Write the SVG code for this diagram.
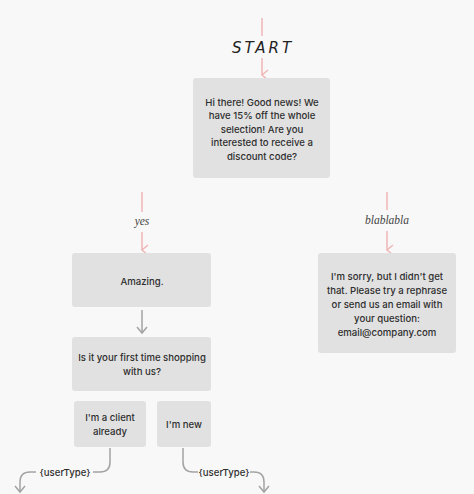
<svg xmlns="http://www.w3.org/2000/svg" width="474" height="494" viewBox="0 0 474 494">
  <style>
    .box { fill: #e1e1e1; }
    .t { font-family: Inter, "Liberation Sans", sans-serif; font-size: 9.6px; font-weight: 500; fill: #2e2e2e; text-anchor: middle; }
    .pink { stroke: #f0b6b6; stroke-width: 1.5; fill: none; }
    .grey { stroke: #a3a3a3; stroke-width: 1.5; fill: none; }
    .hand { font-family: "Liberation Serif", serif; font-style: italic; font-size: 11.5px; fill: #444444; text-anchor: middle; }
    .start { font-family: "DejaVu Sans", sans-serif; font-size: 15px; fill: #222222; text-anchor: middle; letter-spacing: 3px; font-style: italic; }
  </style>
  <defs>
    <marker id="pa" viewBox="0 0 12 12" refX="6" refY="10" markerWidth="12" markerHeight="12" markerUnits="userSpaceOnUse" orient="auto-start-reverse">
      <path d="M1,4 L6,10 L11,4" fill="none" stroke="#f0b6b6" stroke-width="1.5"/>
    </marker>
    <marker id="ga" viewBox="0 0 12 12" refX="6" refY="10" markerWidth="12" markerHeight="12" markerUnits="userSpaceOnUse" orient="0">
      <path d="M1,4 L6,10 L11,4" fill="none" stroke="#a3a3a3" stroke-width="1.5"/>
    </marker>
  </defs>
  <rect width="474" height="494" fill="#f8f8f8"/>

  <g id="connectors">
    <line class="pink" x1="262" y1="18" x2="262" y2="36"/>
    <line class="pink" x1="262" y1="58" x2="262" y2="75" marker-end="url(#pa)"/>
    <line class="pink" x1="142" y1="192" x2="142" y2="212"/>
    <line class="pink" x1="142" y1="232" x2="142" y2="250" marker-end="url(#pa)"/>
    <line class="pink" x1="387" y1="192" x2="387" y2="210"/>
    <line class="pink" x1="387" y1="231" x2="387" y2="250" marker-end="url(#pa)"/>
    <line class="grey" x1="142" y1="310" x2="142" y2="333" marker-end="url(#ga)"/>
    <path class="grey" d="M110,448 V462 Q110,472 100,472 H93"/>
    <path class="grey" d="M36,472 H30 Q20,472 20,482 V492" marker-end="url(#ga)"/>
    <path class="grey" d="M183,448 V462 Q183,472 193,472 H198"/>
    <path class="grey" d="M250,472 H254 Q264,472 264,482 V492" marker-end="url(#ga)"/>
    <text class="hand" x="142" y="225">yes</text>
    <text class="hand" x="387" y="224">blablabla</text>
    <text class="t" x="65" y="475.5">{userType}</text>
    <text class="t" x="224" y="475.5">{userType}</text>
  </g>

  <g id="start">
    <text class="start" x="263" y="53">START</text>
  </g>

  <g id="welcome">
    <rect class="box" x="193" y="78" width="137" height="100" rx="3"/>
    <text class="t" x="262" y="105.5">Hi there! Good news! We</text>
    <text class="t" x="262" y="119">have 15% off the whole</text>
    <text class="t" x="262" y="132.5">selection! Are you</text>
    <text class="t" x="262" y="146">interested to receive a</text>
    <text class="t" x="262" y="159.5">discount code?</text>
  </g>

  <g id="amazing">
    <rect class="box" x="72" y="253" width="139" height="54" rx="3"/>
    <text class="t" x="142" y="284.5">Amazing.</text>
  </g>

  <g id="first-time">
    <rect class="box" x="72" y="337" width="139" height="54" rx="3"/>
    <text class="t" x="142" y="360.5">Is it your first time shopping</text>
    <text class="t" x="142" y="374.5">with us?</text>
  </g>

  <g id="client">
    <rect class="box" x="74" y="401" width="72" height="46" rx="3"/>
    <text class="t" x="110" y="420.5">I'm a client</text>
    <text class="t" x="110" y="434.5">already</text>
  </g>

  <g id="new">
    <rect class="box" x="157" y="401" width="54" height="46" rx="3"/>
    <text class="t" x="184" y="427.5">I'm new</text>
  </g>

  <g id="sorry">
    <rect class="box" x="318" y="253" width="138" height="100" rx="3"/>
    <text class="t" x="387" y="279.5">I'm sorry, but I didn't get</text>
    <text class="t" x="387" y="293.5">that. Please try a rephrase</text>
    <text class="t" x="387" y="307.5">or send us an email with</text>
    <text class="t" x="387" y="321.5">your question:</text>
    <text class="t" x="387" y="335.5">email@company.com</text>
  </g>
</svg>
